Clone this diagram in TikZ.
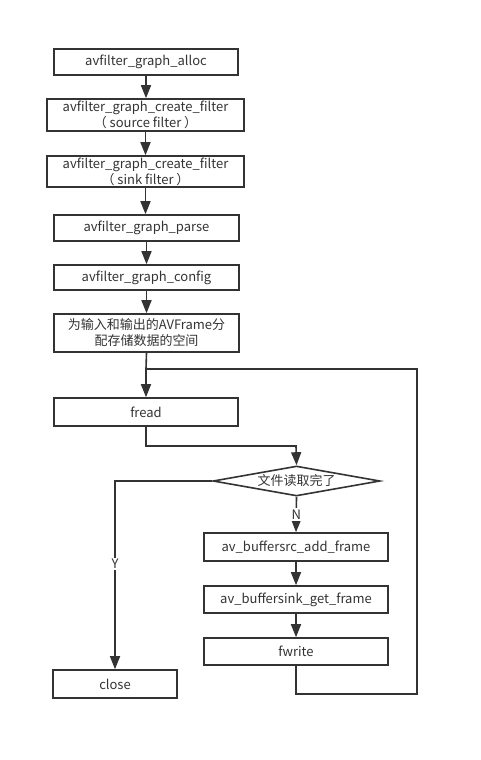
\documentclass[tikz,border=0pt]{standalone}
\usepackage{fontspec}
\setmainfont{Noto Sans CJK SC}
\usetikzlibrary{arrows.meta,shapes.geometric}
\definecolor{ink}{HTML}{333333}
\begin{document}
\begin{tikzpicture}[x=1pt,y=-1pt,
  every node/.style={font=\fontsize{13}{16}\selectfont, text=ink},
  box/.style={draw=ink, line width=1.6pt, rectangle, inner sep=0pt, align=center},
  flow/.style={draw=ink, line width=1.6pt, -{Triangle[length=13pt,width=10pt]}},
  plain/.style={draw=ink, line width=1.6pt},
  lab/.style={fill=white, inner sep=1.5pt}]
\useasboundingbox (0,0) rectangle (480,760);
\node[box, minimum width=184pt, minimum height=26pt] (b1) at (146,62) {avfilter\_graph\_alloc};
\node[box, minimum width=197pt, minimum height=32pt] (b2) at (145.5,115) {avfilter\_graph\_create\_filter\\（ source filter ）};
\node[box, minimum width=197pt, minimum height=31pt] (b3) at (145.5,171.5) {avfilter\_graph\_create\_filter\\（ sink filter ）};
\node[box, minimum width=185pt, minimum height=26pt] (b4) at (146.5,228) {avfilter\_graph\_parse};
\node[box, minimum width=185pt, minimum height=25pt] (b5) at (146.5,277.5) {avfilter\_graph\_config};
\node[box, minimum width=185pt, minimum height=38pt] (b6) at (146.5,333) {为输入和输出的AVFrame分\\配存储数据的空间};
\node[box, minimum width=184pt, minimum height=28pt] (fread) at (146,412) {fread};
\node[draw=ink, line width=1.6pt, diamond, aspect=5.5, inner sep=0pt, minimum width=167pt, minimum height=30pt] (dia) at (296.5,481) {文件读取完了};
\node[box, minimum width=124pt, minimum height=28pt] (close) at (115,684) {close};
\node[box, minimum width=184pt, minimum height=28pt] (src) at (296,547) {av\_buffersrc\_add\_frame};
\node[box, minimum width=184pt, minimum height=27pt] (sink) at (296,599.5) {av\_buffersink\_get\_frame};
\node[box, minimum width=184pt, minimum height=27pt] (fw) at (296,651.5) {fwrite};
\coordinate (j1) at (146,369);
\coordinate (j2) at (296,446);
\coordinate (lbr) at (417,694);
\coordinate (ltr) at (417,369);
\draw[flow] (b1.south) -- (b1.south |- b2.north);
\draw[flow] (b2.south) -- (b2.south |- b3.north);
\draw[flow] (b3.south) -- (b3.south |- b4.north);
\draw[flow] (b4.south) -- (b5.north);
\draw[flow] (b5.south) -- (b6.north);
\draw[plain] (b6.south) -- (j1);
\draw[flow] (j1) -- (fread.north);
\draw[plain] (fw.south) |- (lbr) -- (ltr) -- (j1);
\draw[flow] (fread.south) |- (j2) -- (dia.north);
\draw[flow] (dia.west) -| (close.north) node[lab, pos=0.72] {Y};
\draw[flow] (dia.south) -- (src.north) node[lab, midway] {N};
\draw[flow] (src.south) -- (sink.north);
\draw[flow] (sink.south) -- (fw.north);
\end{tikzpicture}
\end{document}
